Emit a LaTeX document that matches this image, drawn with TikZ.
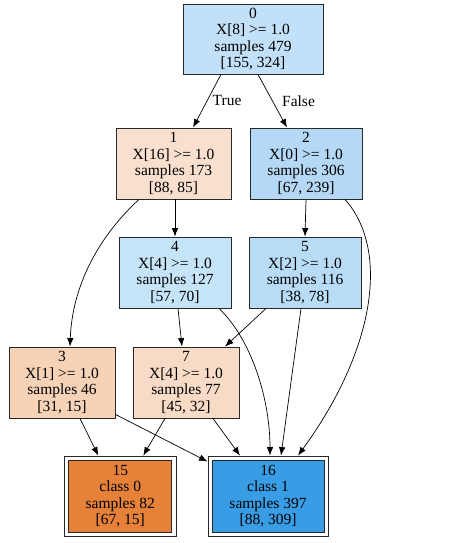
\documentclass[tikz,border=0pt]{standalone}
\usepackage{fontspec}
\setmainfont{Liberation Serif}
\usetikzlibrary{arrows.meta}
\definecolor{c0}{RGB}{194,224,247}
\definecolor{c1}{RGB}{249,224,206}
\definecolor{c2}{RGB}{180,216,245}
\definecolor{c3}{RGB}{246,210,182}
\definecolor{c4}{RGB}{198,228,248}
\definecolor{c5}{RGB}{184,219,246}
\definecolor{c7}{RGB}{248,219,198}
\definecolor{leafA}{RGB}{229,129,57}
\definecolor{leafB}{RGB}{57,157,229}
\definecolor{bord}{RGB}{40,40,40}
\tikzset{
  tnode/.style={draw=bord, line width=0.9pt, rectangle, inner sep=0pt, align=center,
    font=\fontsize{15.5}{16.5}\selectfont},
  frame/.style={draw=bord, line width=0.9pt, rectangle, inner sep=0pt},
  edge/.style={-{Latex[length=8.5pt,width=6.5pt]}, line width=0.7pt, black},
  elab/.style={font=\fontsize{15.5}{16.5}\selectfont}
}
\begin{document}
\begin{tikzpicture}[x=1pt,y=-1pt]
\useasboundingbox[fill=white] (0,0) rectangle (474,543);
\node[tnode, fill=c0, minimum width=140pt, minimum height=70pt] (n0) at (253,39) {0\\X[8] >= 1.0\\samples 479\\{[155, 324]}};
\node[tnode, fill=c1, minimum width=115pt, minimum height=71pt] (n1) at (173.5,163.5) {1\\X[16] >= 1.0\\samples 173\\{[88, 85]}};
\node[tnode, fill=c2, minimum width=112pt, minimum height=71pt] (n2) at (306,163.5) {2\\X[0] >= 1.0\\samples 306\\{[67, 239]}};
\node[tnode, fill=c4, minimum width=112pt, minimum height=71pt] (n4) at (175,272.5) {4\\X[4] >= 1.0\\samples 127\\{[57, 70]}};
\node[tnode, fill=c5, minimum width=112pt, minimum height=71pt] (n5) at (305,272.5) {5\\X[2] >= 1.0\\samples 116\\{[38, 78]}};
\node[tnode, fill=c3, minimum width=106pt, minimum height=71pt] (n3) at (62,382.5) {3\\X[1] >= 1.0\\samples 46\\{[31, 15]}};
\node[tnode, fill=c7, minimum width=106pt, minimum height=71pt] (n7) at (186,382.5) {7\\X[4] >= 1.0\\samples 77\\{[45, 32]}};
\node[frame, minimum width=112pt, minimum height=80pt] (n15o) at (120.25,496) {};
\node[tnode, fill=leafA, minimum width=103pt, minimum height=72pt] (n15) at (120.25,496) {15\\class 0\\samples 82\\{[67, 15]}};
\node[frame, minimum width=120pt, minimum height=80pt] (n16o) at (268,496) {};
\node[tnode, fill=leafB, minimum width=112pt, minimum height=72pt] (n16) at (268,496) {16\\class 1\\samples 397\\{[88, 309]}};

\draw[edge] ([xshift=-32pt]n0.south) -- node[elab, right, pos=0.5, xshift=2pt] {True} ([xshift=19.5pt]n1.north);
\draw[edge] ([xshift=5pt]n0.south) -- node[elab, right, pos=0.5, xshift=6pt] {False} ([xshift=-19pt]n2.north);
\draw[edge] ([xshift=-34.5pt]n1.south) .. controls (95,240) and (72,290) .. ([xshift=8pt]n3.north);
\draw[edge] ([xshift=1.5pt]n1.south) -- (n4.north);
\draw[edge] (n2.south) -- (n5.north);
\draw[edge] ([xshift=39pt]n2.south) .. controls (390,250) and (375,350) .. ([xshift=30pt]n16o.north);
\draw[edge] ([xshift=3pt]n4.south) -- ([xshift=-4pt]n7.north);
\draw[edge] ([xshift=-39pt]n5.south) -- ([xshift=39pt]n7.north);
\draw[edge] ([xshift=44pt]n4.south) .. controls (252,340) and (270,400) .. ([xshift=2pt]n16o.north);
\draw[edge] ([xshift=-4pt]n5.south) -- ([xshift=13pt]n16o.north);
\draw[edge] ([xshift=18pt]n3.south) -- ([xshift=-22pt]n15o.north);
\draw[edge] ([xshift=-21pt]n7.south) -- ([xshift=23pt]n15o.north);
\draw[edge] ([yshift=4pt]n3.south east) -- ([yshift=-6pt]n16o.north west);
\draw[edge] ([xshift=27pt]n7.south) -- ([xshift=-28pt]n16o.north);
\end{tikzpicture}
\end{document}
